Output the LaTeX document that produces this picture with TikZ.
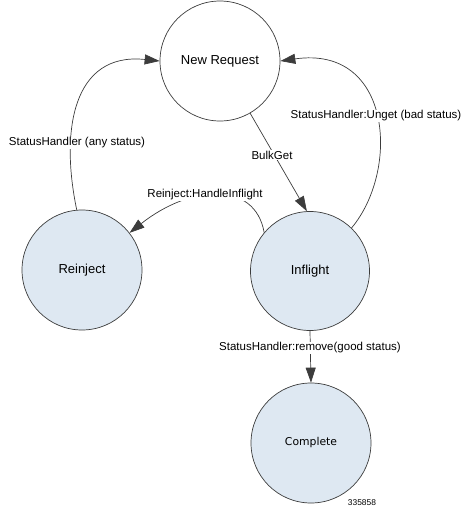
\documentclass[tikz,border=0pt]{standalone}
\usepackage{fontspec}
\setmainfont{Liberation Sans}
\newfontfamily\compfont{DejaVu Sans}
\usetikzlibrary{arrows.meta}
\definecolor{stfill}{HTML}{DEE8F2}
\definecolor{stline}{HTML}{3C3C3C}
\tikzset{
  state/.style={circle, draw=stline, line width=0.7pt, minimum size=120pt, inner sep=0pt, font=\fontsize{13}{15}\selectfont},
  filled/.style={state, fill=stfill},
  conn/.style={draw=stline, line width=0.7pt, -{Triangle[length=15pt,width=10pt]}},
  lbl/.style={fill=white, inner sep=1pt, font=\fontsize{11.5}{13}\selectfont}
}
\begin{document}
\begin{tikzpicture}[x=1pt,y=-1pt]
\useasboundingbox (0,0) rectangle (471,507);
\node[state] (nr) at (220,61) {New Request};
\node[filled] (rej) at (82,270) {Reinject};
\node[filled, minimum size=119pt] (inf) at (310,271) {Inflight};
\node[filled, font=\compfont\fontsize{10.8}{13}\selectfont] (comp) at (311,443) {Complete};

\draw[conn] (nr.-60) -- (inf.93);
\draw[conn] (inf.south) -- (comp.north);
\draw[conn] (inf.46) .. controls (400,170) and (392,45) .. (nr.east);
\draw[conn] (rej.95) .. controls (60,130) and (73,52) .. (nr.west);
\draw[conn] (inf.140) .. controls (255,180) and (190,185) .. (rej.38);

\node[lbl] (lb) at (272,155) {BulkGet};
\node[lbl] (lu) at (376,116) {StatusHandler:Unget (bad status)};
\node[lbl] (la) at (77,143) {StatusHandler (any status)};
\node[lbl] (lh) at (205,195) {Reinject:HandleInflight};
\node[lbl] (lr) at (310,348) {StatusHandler:remove(good status)};
\node[font=\fontsize{8.4}{10}\selectfont, inner sep=0pt] (id) at (362,503) {335858};
\end{tikzpicture}
\end{document}
